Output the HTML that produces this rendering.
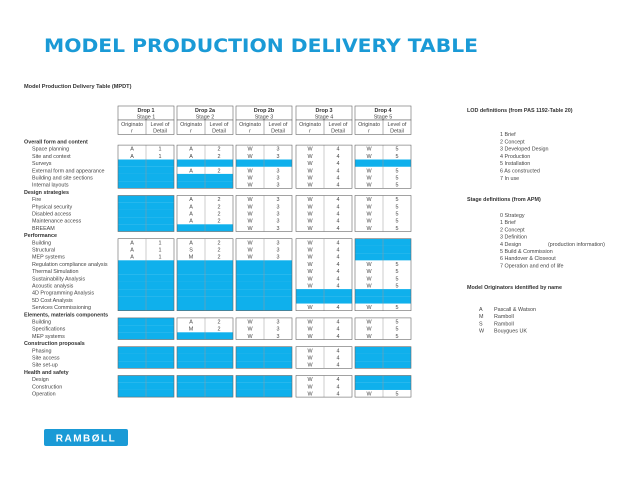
<!DOCTYPE html>
<html><head><meta charset="utf-8"><style>
html,body{margin:0;padding:0;background:#fff;}
svg{display:block;font-family:"Liberation Sans",Arial,sans-serif;}
</style></head><body>
<svg id="s" width="638" height="479" viewBox="0 0 638 479" xmlns="http://www.w3.org/2000/svg">
<text x="44" y="52" font-family="DejaVu Sans, sans-serif" font-weight="bold" font-size="19" fill="#1a9ad6" textLength="434" lengthAdjust="spacingAndGlyphs">MODEL PRODUCTION DELIVERY TABLE</text>
<text x="24" y="88" font-size="5.6" font-weight="bold" fill="#333">Model Production Delivery Table (MPDT)</text>
<g>
<rect x="44" y="429" width="84" height="17" rx="2" fill="#1a9ad6"/>
<text x="86" y="441.5" text-anchor="middle" font-size="10" font-weight="bold" fill="#fff" letter-spacing="1.5">RAMBØLL</text>
</g>
<g id="tbl"></g>
<g id="side"></g>
</svg>
<script>
const groups=["Overall form and content","Design strategies","Performance","Elements, materials components","Construction proposals","Health and safety"];
const items=[
["Space planning","Site and context","Surveys","External form and appearance","Building and site sections","Internal layouts"],
["Fire","Physical security","Disabled access","Maintenance access","BREEAM"],
["Building","Structural","MEP systems","Regulation compliance analysis","Thermal Simulation","Sustainability Analysis","Acoustic analysis","4D Programming Analysis","5D Cost Analysis","Services Commissioning"],
["Building","Specifications","MEP systems"],
["Phasing","Site access","Site set-up"],
["Design","Construction","Operation"]];
const drops=["Drop 1","Drop 2a","Drop 2b","Drop 3","Drop 4"];
const stages=["Stage 1","Stage 2","Stage 3","Stage 4","Stage 5"];
// cell codes: "A1" = originator A, LOD 1; "" = blue (not required)
const drop1=[["A1","A1","","","",""],["","","","",""],["A1","A1","A1","","","","","","",""],["","",""],["","",""],["","",""]];
const drop2a=[["A2","A2","","A2","",""],["A2","A2","A2","A2",""],["A2","S2","M2","","","","","","",""],["A2","M2",""],["","",""],["","",""]];
const drop2b=[["W3","W3","","W3","W3","W3"],["W3","W3","W3","W3","W3"],["W3","W3","W3","","","","","","",""],["W3","W3","W3"],["","",""],["","",""]];
const drop3=[["W4","W4","W4","W4","W4","W4"],["W4","W4","W4","W4","W4"],["W4","W4","W4","W4","W4","W4","W4","","","W4"],["W4","W4","W4"],["W4","W4","W4"],["W4","W4","W4"]];
const drop4=[["W5","W5","","W5","W5","W5"],["W5","W5","W5","W5","W5"],["","","","W5","W5","W5","W5","","","W5"],["W5","W5","W5"],["","",""],["","","W5"]];
const cells=[drop1,drop2a,drop2b,drop3,drop4];
const lodDefs=["1 Brief","2 Concept","3 Developed Design","4 Production","5 Installation","6 As constructed","7 In use"];
const stageDefs=["0 Strategy","1 Brief","2 Concept","3 Definition","4 Design","5 Build & Commission","6 Handover & Closeout","7 Operation and end of life"];
const origCodes=["A","M","S","W"];
const origNames=["Pascall & Watson","Ramboll","Ramboll","Bouygues UK"];

const NS="http://www.w3.org/2000/svg";
function mk(tag,at,par,txt){const e=document.createElementNS(NS,tag);for(const k in at)e.setAttribute(k,at[k]);if(txt!==undefined)e.textContent=txt;par.appendChild(e);return e;}
const T=document.getElementById('tbl'), S=document.getElementById('side');
const RH=7.2, Y0=141.5;
const rowY=i=>Y0+RH*i;
const colX=[118,177,236,296,355], CW=56;
const BLUE="#0fb0ec", BORDER="#666", FS=5.4;

// headers
drops.forEach((d,k)=>{
  const x=colX[k];
  const hb=mk('rect',{x:x,y:106,width:CW,height:14,fill:"#fff",stroke:BORDER,"stroke-width":0.6},T);
  
  
  const lb=mk('rect',{x:x,y:120,width:CW,height:14.5,fill:"#fff",stroke:BORDER,"stroke-width":0.6},T);
  
  
  mk('line',{x1:x+CW/2,y1:120,x2:x+CW/2,y2:134.5,stroke:BORDER,"stroke-width":0.5},T);
  const t1=mk('text',{x:x+CW/2,y:112,"text-anchor":"middle","font-size":FS,"font-weight":"bold",fill:"#333"},T,d);
  
  
  const t2=mk('text',{x:x+CW/2,y:118.5,"text-anchor":"middle","font-size":FS,fill:"#444"},T,stages[k]);
  
  
  mk('text',{x:x+CW/4,y:126,"text-anchor":"middle","font-size":FS,fill:"#444"},T,"Originato");
  mk('text',{x:x+CW/4,y:132.5,"text-anchor":"middle","font-size":FS,fill:"#444"},T,"r");
  mk('text',{x:x+CW*0.75,y:126,"text-anchor":"middle","font-size":FS,fill:"#444"},T,"Level of");
  mk('text',{x:x+CW*0.75,y:132.5,"text-anchor":"middle","font-size":FS,fill:"#444"},T,"Detail");
});

let r=0;
groups.forEach((g,gi)=>{
  const gt=mk('text',{x:24,y:rowY(r)+2,"font-size":FS,"font-weight":"bold",fill:"#333"},T,g);
  
  
  const top=rowY(r)+RH/2; r++;
  const n=items[gi].length;
  items[gi].forEach((it,ii)=>{
    const lt=mk('text',{x:32,y:rowY(r+ii)+2,"font-size":FS,fill:"#444"},T,it);
    
    
  });
  cells.forEach((dc,k)=>{
    const x=colX[k];
    mk('rect',{x:x,y:top,width:CW,height:n*RH,fill:"#fff"},T);
    dc[gi].forEach((v,ii)=>{
      const yy=top+ii*RH;
      if(v===""){
        const b=mk('rect',{x:x,y:yy,width:CW,height:RH+0.05,fill:BLUE},T);
        
        
      } else {
        const a=mk('text',{x:x+CW/4,y:yy+RH/2+2,"text-anchor":"middle","font-size":FS,fill:"#444"},T,v[0]);
        
        
        const l=mk('text',{x:x+CW*0.75,y:yy+RH/2+2,"text-anchor":"middle","font-size":FS,fill:"#444"},T,v.slice(1));
        
        
      }
    });
    mk('line',{x1:x+CW/2,y1:top,x2:x+CW/2,y2:top+n*RH,stroke:"#999","stroke-width":0.5},T);
    const bx=mk('rect',{x:x,y:top,width:CW,height:n*RH,fill:"none",stroke:BORDER,"stroke-width":0.6},T);
    
    
  });
  r+=n;
});

// side definitions
function hdr(t,y,name){const e=mk('text',{x:467,y:y,"font-size":FS,"font-weight":"bold",fill:"#333"},S,t);}
hdr("LOD definitions (from PAS 1192-Table 20)",112,"lod-heading");
lodDefs.forEach((t,i)=>{const e=mk('text',{x:500,y:136+i*7.3,"font-size":FS,fill:"#444"},S,t);});
hdr("Stage definitions (from APM)",201,"stage-heading");
stageDefs.forEach((t,i)=>{const e=mk('text',{x:500,y:217+i*7.2,"font-size":FS,fill:"#444"},S,t);});
mk('text',{x:548,y:246,"font-size":FS,fill:"#444"},S,"(production information)");
hdr("Model Originators identified by name",289,"originators-heading");
origCodes.forEach((c,i)=>{
  mk('text',{x:479,y:311+i*7.2,"font-size":FS,fill:"#444"},S,c);
  const e=mk('text',{x:494,y:311+i*7.2,"font-size":FS,fill:"#444"},S,origNames[i]);
  
  
});
</script>
</body></html>
